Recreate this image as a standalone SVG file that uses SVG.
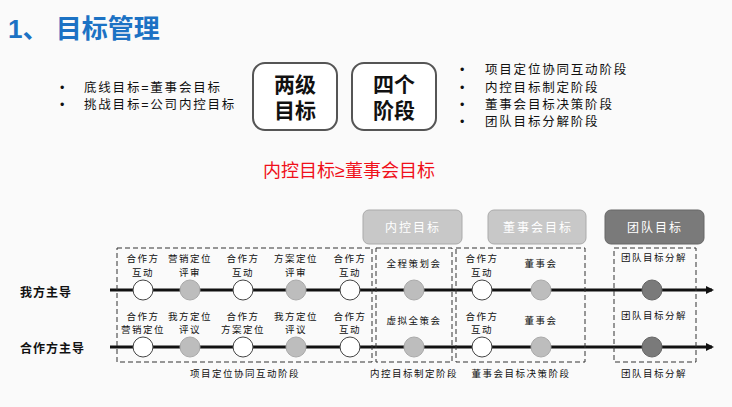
<svg xmlns="http://www.w3.org/2000/svg" width="732" height="407" viewBox="0 0 732 407">
<defs>
<style>
text{font-family:"Liberation Sans","Noto Sans CJK SC",sans-serif;fill:#111}
.s{font-size:9.5px;text-anchor:middle;letter-spacing:1.5px}
.b{font-size:12.5px;letter-spacing:1.8px}
.big{font-size:21px;font-weight:bold;text-anchor:middle}
.lb{font-size:12px;font-weight:bold;letter-spacing:1px}
.tag{font-size:12px;text-anchor:middle;fill:#fff;letter-spacing:2px}
.db{fill:none;stroke:#333;stroke-width:1;stroke-dasharray:5,3}
.ln{stroke:#111;stroke-width:3}
.w{fill:#fff;stroke:#444;stroke-width:1}
.g{fill:#bdbdbd;stroke:#aaa;stroke-width:1}
.d{fill:#7a7a7a;stroke:#666;stroke-width:1}
</style>
<marker id="ar" markerWidth="8" markerHeight="8" refX="6" refY="4" orient="auto" markerUnits="userSpaceOnUse"><path d="M0,0 L8,4 L0,8 z" fill="#111"/></marker>
</defs>
<rect width="732" height="407" fill="#fafafa"/>
<text x="8" y="38" style="font-size:26px;font-weight:bold;fill:#1c72c4">1、 目标管理</text>
<g id="left-bullets">
<text x="60" y="92" class="b">•</text><text x="84" y="92" class="b">底线目标=董事会目标</text>
<text x="60" y="109" class="b">•</text><text x="84" y="109" class="b">挑战目标=公司内控目标</text>
</g>
<g id="box-two"><rect x="253" y="63" width="84" height="67" rx="12" fill="#fff" stroke="#555" stroke-width="2"/><text x="295" y="92" class="big">两级</text><text x="295" y="118" class="big">目标</text></g>
<g id="box-four"><rect x="352" y="63" width="84" height="67" rx="12" fill="#fff" stroke="#555" stroke-width="2"/><text x="394" y="92" class="big">四个</text><text x="394" y="118" class="big">阶段</text></g>
<g id="right-bullets">
<text x="460" y="74" class="b">•</text><text x="485" y="74" class="b">项目定位协同互动阶段</text>
<text x="460" y="92" class="b">•</text><text x="485" y="92" class="b">内控目标制定阶段</text>
<text x="460" y="109" class="b">•</text><text x="485" y="109" class="b">董事会目标决策阶段</text>
<text x="460" y="126" class="b">•</text><text x="485" y="126" class="b">团队目标分解阶段</text>
</g>
<text x="349" y="177" style="font-size:18px;fill:#f0101a;text-anchor:middle">内控目标≥董事会目标</text>
<g id="tag1"><rect x="363" y="210" width="99" height="34" rx="6" fill="#c8c8c8" stroke="#aaa"/><text x="413" y="232" class="tag">内控目标</text></g>
<g id="tag2"><rect x="488" y="210" width="98" height="34" rx="6" fill="#c8c8c8" stroke="#aaa"/><text x="538" y="232" class="tag">董事会目标</text></g>
<g id="tag3"><rect x="605" y="210" width="99" height="34" rx="6" fill="#7a7a7a" stroke="#666"/><text x="655" y="232" class="tag">团队目标</text></g>
<text x="20" y="297" class="lb">我方主导</text>
<text x="20" y="353" class="lb">合作方主导</text>
<g id="connectors">
<line x1="110" y1="290" x2="712" y2="290" class="ln" marker-end="url(#ar)"/>
<line x1="110" y1="347" x2="712" y2="347" class="ln" marker-end="url(#ar)"/>
</g>
<g id="stages">
<rect x="117" y="248" width="255" height="114" class="db"/>
<rect x="376" y="248" width="76" height="114" class="db"/>
<rect x="456" y="248" width="129" height="114" class="db"/>
<rect x="614" y="248" width="82" height="114" class="db"/>
</g>
<g id="row1">
<circle cx="143" cy="290" r="10" class="w"/><circle cx="190" cy="290" r="10" class="g"/><circle cx="243" cy="290" r="10" class="w"/><circle cx="296" cy="290" r="10" class="g"/><circle cx="350" cy="290" r="10" class="w"/>
<circle cx="414" cy="290" r="10" class="g"/><circle cx="482" cy="290" r="10" class="w"/><circle cx="541" cy="290" r="10" class="g"/><circle cx="652" cy="290" r="10" class="d"/>
<text x="143" y="262" class="s">合作方</text><text x="143" y="276" class="s">互动</text>
<text x="190" y="262" class="s">营销定位</text><text x="190" y="276" class="s">评审</text>
<text x="243" y="262" class="s">合作方</text><text x="243" y="276" class="s">互动</text>
<text x="296" y="262" class="s">方案定位</text><text x="296" y="276" class="s">评审</text>
<text x="350" y="262" class="s">合作方</text><text x="350" y="276" class="s">互动</text>
<text x="414" y="267" class="s">全程策划会</text>
<text x="482" y="262" class="s">合作方</text><text x="482" y="276" class="s">互动</text>
<text x="541" y="267" class="s">董事会</text>
<text x="654" y="261" class="s">团队目标分解</text>
</g>
<g id="row2">
<circle cx="143" cy="347" r="10" class="w"/><circle cx="190" cy="347" r="10" class="g"/><circle cx="243" cy="347" r="10" class="w"/><circle cx="296" cy="347" r="10" class="g"/><circle cx="350" cy="347" r="10" class="w"/>
<circle cx="414" cy="347" r="10" class="g"/><circle cx="482" cy="347" r="10" class="w"/><circle cx="541" cy="347" r="10" class="g"/><circle cx="652" cy="347" r="10" class="d"/>
<text x="143" y="320" class="s">合作方</text><text x="143" y="333" class="s">营销定位</text>
<text x="190" y="320" class="s">我方定位</text><text x="190" y="333" class="s">评议</text>
<text x="243" y="320" class="s">合作方</text><text x="243" y="333" class="s">方案定位</text>
<text x="296" y="320" class="s">我方定位</text><text x="296" y="333" class="s">评议</text>
<text x="350" y="320" class="s">合作方</text><text x="350" y="333" class="s">互动</text>
<text x="414" y="324" class="s">虚拟全策会</text>
<text x="482" y="320" class="s">合作方</text><text x="482" y="333" class="s">互动</text>
<text x="541" y="324" class="s">董事会</text>
<text x="654" y="319" class="s">团队目标分解</text>
</g>
<g id="stage-labels">
<text x="245" y="377" class="s">项目定位协同互动阶段</text>
<text x="414" y="377" class="s">内控目标制定阶段</text>
<text x="521" y="377" class="s">董事会目标决策阶段</text>
<text x="654" y="377" class="s">团队目标分解</text>
</g>
</svg>
